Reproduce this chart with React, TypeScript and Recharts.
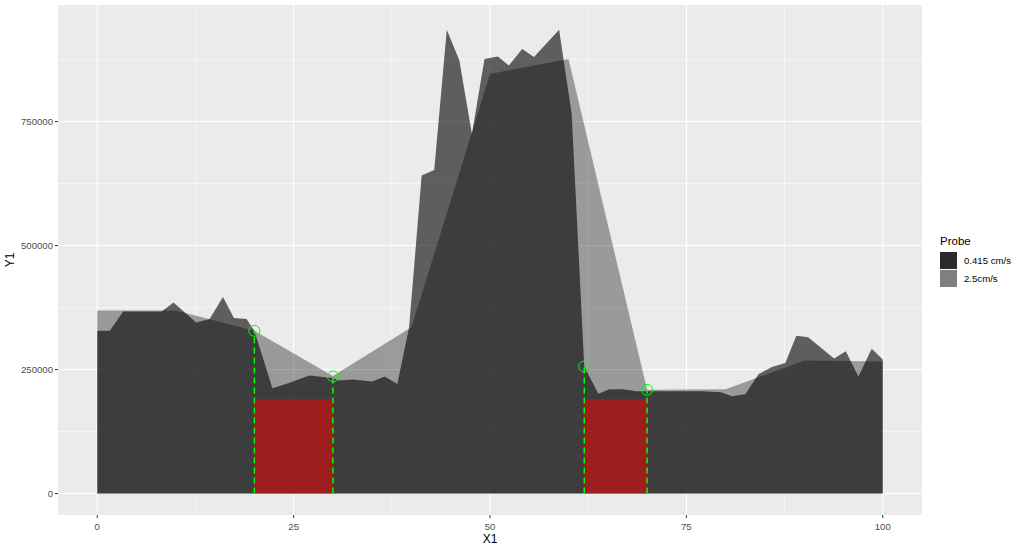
import React from "react";
import {
  ComposedChart,
  Area,
  XAxis,
  YAxis,
  CartesianGrid,
  ReferenceArea,
  ReferenceLine,
  ReferenceDot,
} from "recharts";

// Series "0.415 cm/s" (dark)
const darkX = [
  0, 1.6, 3.3, 8.2, 9.7, 12.6, 14.3, 16.0, 17.4, 19.0, 20.0, 22.3, 24.0, 27.0, 28.2, 30.0,
  30.7, 32.5, 35.0, 36.6, 38.2, 39.7, 41.3, 42.9, 44.5, 46.1, 47.7, 49.3, 51.0, 52.4, 54.1,
  55.6, 58.8, 60.4, 62.0, 63.8, 65.2, 67.0, 68.6, 70.0, 77.0, 79.4, 80.8, 82.5, 84.2, 85.9,
  87.6, 89.0, 90.5, 92.3, 93.8, 95.3, 96.9, 98.6, 100,
];
const darkY = [
  328000, 328000, 367000, 367000, 385000, 345000, 352000, 396000, 354000, 352000, 328000,
  212000, 221000, 238000, 236000, 233000, 228000, 230000, 226000, 236000, 221000, 335000,
  641000, 652000, 935000, 873000, 725000, 876000, 881000, 863000, 896000, 880000, 935000,
  765000, 256000, 201000, 210000, 210000, 206000, 206000, 206000, 204000, 196000, 200000,
  241000, 255000, 263000, 318000, 315000, 292000, 272000, 287000, 236000, 292000, 270000,
];

// Series "2.5cm/s" (light)
const lightX = [0, 10, 20, 30, 40, 50, 60, 70, 80, 90, 100];
const lightY = [369000, 369000, 328000, 237000, 335000, 846000, 876000, 209000, 210000, 268000, 266000];

// Marked points (green circles + dashed drops)
const markX = [20, 30, 62, 70];
const markY = [328000, 236000, 256000, 209000];

// Shaded red intervals
const bandStart = [20, 62];
const bandEnd = [30, 70];
const bandTop = 190000;

const seriesNames = ["0.415 cm/s", "2.5cm/s"];
const xTicks = [0, 25, 50, 75, 100];
const xMinor = [12.5, 37.5, 62.5, 87.5];
const yTicks = [0, 250000, 500000, 750000];
const yMinor = [125000, 375000, 625000, 875000];

const darkData = darkX.map((x, i) => ({ x, y: darkY[i] }));
const lightData = lightX.map((x, i) => ({ x, y: lightY[i] }));

const FONT = '"Liberation Sans", Arial, sans-serif';

export default function App() {
  const tickStyle = { fill: "#4D4D4D", fontSize: 9.6, fontFamily: FONT };
  return (
    <div style={{ position: "absolute", left: 0, top: 0, width: 1024, height: 551, background: "#fff" }}>
      <ComposedChart
        width={1024}
        height={551}
        margin={{ top: 5, right: 102, bottom: 0, left: 0 }}
      >
        <CartesianGrid
          fill="#EBEBEB"
          stroke="#FFFFFF"
          strokeWidth={0.55}
          verticalValues={xMinor}
          horizontalValues={yMinor}
        />
        <CartesianGrid
          stroke="#FFFFFF"
          strokeWidth={1.1}
          verticalValues={xTicks}
          horizontalValues={yTicks}
        />
        <XAxis
          dataKey="x"
          type="number"
          domain={[-5, 105]}
          ticks={xTicks}
          allowDataOverflow
          axisLine={false}
          tickLine={{ stroke: "#333333" }}
          tickSize={3}
          tickMargin={5}
          height={36}
          tick={tickStyle}
          interval={0}
        />
        <YAxis
          type="number"
          domain={[-43347, 984879]}
          ticks={yTicks}
          allowDataOverflow
          axisLine={false}
          tickLine={{ stroke: "#333333" }}
          tickSize={3}
          tickMargin={2}
          width={58}
          tick={tickStyle}
          interval={0}
        />
        <Area
          data={lightData}
          dataKey="y"
          type="linear"
          baseValue={0}
          stroke="none"
          fill="#000000"
          fillOpacity={0.345}
          isAnimationActive={false}
          name={seriesNames[1]}
        />
        <Area
          data={darkData}
          dataKey="y"
          type="linear"
          baseValue={0}
          stroke="none"
          fill="#000000"
          fillOpacity={0.6}
          isAnimationActive={false}
          name={seriesNames[0]}
        />
        {bandStart.map((s, i) => (
          <ReferenceArea
            key={"band" + i}
            x1={s}
            x2={bandEnd[i]}
            y1={0}
            y2={bandTop}
            fill="#FF0000"
            fillOpacity={0.5}
            stroke="none"
          />
        ))}
        {markX.map((x, i) => (
          <ReferenceLine
            key={"drop" + i}
            segment={[
              { x, y: 0 },
              { x, y: markY[i] },
            ]}
            stroke="#00FF00"
            strokeWidth={1.5}
            strokeDasharray="6 4"
          />
        ))}
        {markX.map((x, i) => (
          <ReferenceDot
            key={"dot" + i}
            x={x}
            y={markY[i]}
            r={5.5}
            fill="none"
            stroke="#00FF00"
            strokeWidth={1}
          />
        ))}
      </ComposedChart>
      <svg
        width={1024}
        height={551}
        style={{ position: "absolute", left: 0, top: 0, pointerEvents: "none" }}
      >
        <text x={490} y={543} textAnchor="middle" fontSize={12} fontFamily={FONT} fill="#000">
          X1
        </text>
        <text
          transform="translate(14,260) rotate(-90)"
          textAnchor="middle"
          fontSize={12}
          fontFamily={FONT}
          fill="#000"
        >
          Y1
        </text>
        <text x={940} y={245} fontSize={11.5} fontFamily={FONT} fill="#000">
          Probe
        </text>
        <rect x={940} y={252} width={17} height={17} fill="#2B2B2B" />
        <rect x={940} y={270} width={17} height={17} fill="#7F7F7F" />
        <text x={964} y={264} fontSize={9.6} fontFamily={FONT} fill="#000">
          {seriesNames[0]}
        </text>
        <text x={964} y={282} fontSize={9.6} fontFamily={FONT} fill="#000">
          {seriesNames[1]}
        </text>
      </svg>
    </div>
  );
}
